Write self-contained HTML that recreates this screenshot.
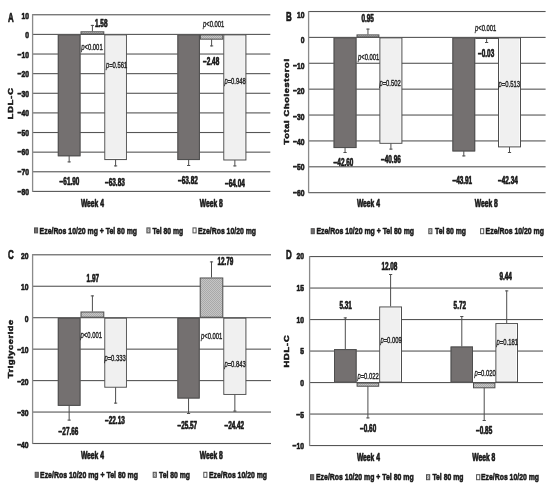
<!DOCTYPE html>
<html lang="en"><head><meta charset="utf-8"><title>Lipid changes</title>
<style>
html,body{margin:0;padding:0;background:#fff}
svg{display:block;font-family:"Liberation Sans", sans-serif;filter:blur(.35px)}
text{stroke-linejoin:round;vector-effect:non-scaling-stroke}
.b{stroke:#1c1c1c;stroke-width:.6px}
.p{stroke:#262626;stroke-width:.35px}
</style></head><body>
<svg width="550" height="485" viewBox="0 0 550 485">
<defs><pattern id="dots" width="2" height="2" patternUnits="userSpaceOnUse"><rect width="2" height="2" fill="#c5c5c5"/><rect width="1" height="1" fill="#a9a9a9"/><rect x="1" y="1" width="1" height="1" fill="#a9a9a9"/></pattern></defs>
<rect width="550" height="485" fill="#ffffff"/>
<rect x="32.40" y="14.22" width="237.90" height="1.10" fill="#565656"/>
<rect x="32.40" y="33.85" width="237.90" height="1.10" fill="#565656"/>
<rect x="32.40" y="53.48" width="237.90" height="1.10" fill="#565656"/>
<rect x="32.40" y="73.10" width="237.90" height="1.10" fill="#565656"/>
<rect x="32.40" y="92.73" width="237.90" height="1.10" fill="#565656"/>
<rect x="32.40" y="112.35" width="237.90" height="1.10" fill="#565656"/>
<rect x="32.40" y="131.97" width="237.90" height="1.10" fill="#565656"/>
<rect x="32.40" y="151.60" width="237.90" height="1.10" fill="#565656"/>
<rect x="32.40" y="171.22" width="237.90" height="1.10" fill="#565656"/>
<rect x="32.40" y="190.85" width="237.90" height="1.10" fill="#565656"/>
<rect x="31.95" y="14.00" width="1.30" height="178.00" fill="#8a8a8a"/>
<text transform="translate(29.00,18.60) scale(0.71,1)" font-size="9.5" font-weight="bold" text-anchor="end" fill="#161616" class="b">10</text>
<text transform="translate(29.00,38.15) scale(0.71,1)" font-size="9.5" font-weight="bold" text-anchor="end" fill="#161616" class="b">0</text>
<text transform="translate(29.00,57.70) scale(0.71,1)" font-size="9.5" font-weight="bold" text-anchor="end" fill="#161616" class="b">−10</text>
<text transform="translate(29.00,77.25) scale(0.71,1)" font-size="9.5" font-weight="bold" text-anchor="end" fill="#161616" class="b">−20</text>
<text transform="translate(29.00,96.80) scale(0.71,1)" font-size="9.5" font-weight="bold" text-anchor="end" fill="#161616" class="b">−30</text>
<text transform="translate(29.00,116.35) scale(0.71,1)" font-size="9.5" font-weight="bold" text-anchor="end" fill="#161616" class="b">−40</text>
<text transform="translate(29.00,135.90) scale(0.71,1)" font-size="9.5" font-weight="bold" text-anchor="end" fill="#161616" class="b">−50</text>
<text transform="translate(29.00,155.45) scale(0.71,1)" font-size="9.5" font-weight="bold" text-anchor="end" fill="#161616" class="b">−60</text>
<text transform="translate(29.00,175.00) scale(0.71,1)" font-size="9.5" font-weight="bold" text-anchor="end" fill="#161616" class="b">−70</text>
<text transform="translate(29.00,194.55) scale(0.71,1)" font-size="9.5" font-weight="bold" text-anchor="end" fill="#161616" class="b">−80</text>
<rect x="57.80" y="34.40" width="22.70" height="121.88" fill="#747070"/>
<rect x="58.30" y="34.90" width="21.70" height="120.88" fill="none" stroke="#4e4e4e" stroke-width="1"/>
<rect x="68.65" y="155.88" width="1.00" height="6.52" fill="#4e4e4e"/>
<rect x="67.55" y="161.40" width="3.20" height="1.00" fill="#4e4e4e"/>
<rect x="81.00" y="31.80" width="22.80" height="2.10" fill="url(#dots)" stroke="#4e4e4e" stroke-width="1"/>
<rect x="91.90" y="24.90" width="1.00" height="6.40" fill="#4e4e4e"/>
<rect x="90.80" y="24.90" width="3.20" height="1.00" fill="#4e4e4e"/>
<rect x="104.80" y="34.90" width="21.60" height="124.67" fill="#ffffff" stroke="#4e4e4e" stroke-width="1"/>
<rect x="106.00" y="36.10" width="19.20" height="122.27" fill="#f0f0f0"/>
<rect x="115.10" y="159.67" width="1.00" height="6.73" fill="#4e4e4e"/>
<rect x="114.00" y="165.40" width="3.20" height="1.00" fill="#4e4e4e"/>
<rect x="177.40" y="34.40" width="22.50" height="125.65" fill="#747070"/>
<rect x="177.90" y="34.90" width="21.50" height="124.65" fill="none" stroke="#4e4e4e" stroke-width="1"/>
<rect x="188.15" y="159.65" width="1.00" height="6.35" fill="#4e4e4e"/>
<rect x="187.05" y="165.00" width="3.20" height="1.00" fill="#4e4e4e"/>
<rect x="200.40" y="34.90" width="22.40" height="4.27" fill="url(#dots)" stroke="#4e4e4e" stroke-width="1"/>
<rect x="211.10" y="39.27" width="1.00" height="7.13" fill="#4e4e4e"/>
<rect x="210.00" y="45.40" width="3.20" height="1.00" fill="#4e4e4e"/>
<rect x="223.80" y="34.90" width="22.10" height="125.08" fill="#ffffff" stroke="#4e4e4e" stroke-width="1"/>
<rect x="225.00" y="36.10" width="19.70" height="122.68" fill="#f0f0f0"/>
<rect x="234.35" y="160.08" width="1.00" height="6.32" fill="#4e4e4e"/>
<rect x="233.25" y="165.40" width="3.20" height="1.00" fill="#4e4e4e"/>
<text transform="translate(59.60,185.10) scale(0.635,1)" font-size="10.1" font-weight="bold" text-anchor="start" fill="#161616" class="b">−61.90</text>
<text transform="translate(95.00,26.50) scale(0.635,1)" font-size="10.1" font-weight="bold" text-anchor="start" fill="#161616" class="b">1.58</text>
<text transform="translate(105.00,186.10) scale(0.635,1)" font-size="10.1" font-weight="bold" text-anchor="start" fill="#161616" class="b">−63.83</text>
<text transform="translate(178.00,184.10) scale(0.635,1)" font-size="10.1" font-weight="bold" text-anchor="start" fill="#161616" class="b">−63.82</text>
<text transform="translate(203.00,64.50) scale(0.635,1)" font-size="10.1" font-weight="bold" text-anchor="start" fill="#161616" class="b">−2.48</text>
<text transform="translate(225.00,186.50) scale(0.635,1)" font-size="10.1" font-weight="bold" text-anchor="start" fill="#161616" class="b">−64.04</text>
<text transform="translate(81.30,50.20) scale(0.645,1)" font-size="9.1" fill="#262626" class="p"><tspan font-style="italic">p</tspan>&lt;0.001</text>
<text transform="translate(105.90,67.50) scale(0.645,1)" font-size="9.1" fill="#262626" class="p"><tspan font-style="italic">p</tspan>=0.561</text>
<text transform="translate(203.00,26.50) scale(0.645,1)" font-size="9.1" fill="#262626" class="p"><tspan font-style="italic">p</tspan>&lt;0.001</text>
<text transform="translate(224.40,83.50) scale(0.645,1)" font-size="9.1" fill="#262626" class="p"><tspan font-style="italic">p</tspan>=0.948</text>
<text transform="translate(80.90,206.60) scale(0.66,1)" font-size="10.2" font-weight="bold" text-anchor="start" fill="#161616" class="b">Week 4</text>
<text transform="translate(199.70,206.60) scale(0.66,1)" font-size="10.2" font-weight="bold" text-anchor="start" fill="#161616" class="b">Week 8</text>
<rect x="34.50" y="227.90" width="3.10" height="5.00" fill="#747070" stroke="#505050" stroke-width="1"/>
<text x="39.60" y="233.60" font-size="9.9" font-weight="bold" fill="#161616" class="b" textLength="97.40" lengthAdjust="spacingAndGlyphs">Eze/Ros 10/20 mg + Tel 80 mg</text>
<rect x="146.90" y="227.90" width="3.10" height="5.00" fill="url(#dots)" stroke="#505050" stroke-width="1"/>
<text x="152.40" y="233.60" font-size="9.9" font-weight="bold" fill="#161616" class="b" textLength="30.80" lengthAdjust="spacingAndGlyphs">Tel 80 mg</text>
<rect x="193.00" y="227.90" width="3.10" height="5.00" fill="#ffffff" stroke="#505050" stroke-width="1"/>
<text x="198.00" y="233.60" font-size="9.9" font-weight="bold" fill="#161616" class="b" textLength="58.00" lengthAdjust="spacingAndGlyphs">Eze/Ros 10/20 mg</text>
<text transform="translate(13.40,103.60) rotate(-90) scale(1.25,1)" x="-12.48" y="0" font-size="7.4" font-weight="bold" fill="#161616" class="b" textLength="24.96" lengthAdjust="spacing">LDL-C</text>
<text transform="translate(8.00,22.00) scale(0.635,1)" font-size="12.5" font-weight="bold" text-anchor="start" fill="#161616" class="b">A</text>
<rect x="308.40" y="10.97" width="237.20" height="1.10" fill="#565656"/>
<rect x="308.40" y="36.85" width="237.20" height="1.10" fill="#565656"/>
<rect x="308.40" y="62.73" width="237.20" height="1.10" fill="#565656"/>
<rect x="308.40" y="88.61" width="237.20" height="1.10" fill="#565656"/>
<rect x="308.40" y="114.49" width="237.20" height="1.10" fill="#565656"/>
<rect x="308.40" y="140.37" width="237.20" height="1.10" fill="#565656"/>
<rect x="308.40" y="166.25" width="237.20" height="1.10" fill="#565656"/>
<rect x="308.40" y="192.13" width="237.20" height="1.10" fill="#565656"/>
<rect x="307.95" y="11.00" width="1.30" height="182.00" fill="#8a8a8a"/>
<text transform="translate(304.40,17.90) scale(0.71,1)" font-size="9.5" font-weight="bold" text-anchor="end" fill="#161616" class="b">10</text>
<text transform="translate(304.40,43.30) scale(0.71,1)" font-size="9.5" font-weight="bold" text-anchor="end" fill="#161616" class="b">0</text>
<text transform="translate(304.40,68.70) scale(0.71,1)" font-size="9.5" font-weight="bold" text-anchor="end" fill="#161616" class="b">−10</text>
<text transform="translate(304.40,94.10) scale(0.71,1)" font-size="9.5" font-weight="bold" text-anchor="end" fill="#161616" class="b">−20</text>
<text transform="translate(304.40,119.50) scale(0.71,1)" font-size="9.5" font-weight="bold" text-anchor="end" fill="#161616" class="b">−30</text>
<text transform="translate(304.40,144.90) scale(0.71,1)" font-size="9.5" font-weight="bold" text-anchor="end" fill="#161616" class="b">−40</text>
<text transform="translate(304.40,170.30) scale(0.71,1)" font-size="9.5" font-weight="bold" text-anchor="end" fill="#161616" class="b">−50</text>
<text transform="translate(304.40,195.70) scale(0.71,1)" font-size="9.5" font-weight="bold" text-anchor="end" fill="#161616" class="b">−60</text>
<rect x="333.60" y="37.40" width="22.90" height="110.65" fill="#747070"/>
<rect x="334.10" y="37.90" width="21.90" height="109.65" fill="none" stroke="#4e4e4e" stroke-width="1"/>
<rect x="344.55" y="147.65" width="1.00" height="5.35" fill="#4e4e4e"/>
<rect x="343.45" y="152.00" width="3.20" height="1.00" fill="#4e4e4e"/>
<rect x="357.00" y="34.90" width="21.90" height="2.00" fill="url(#dots)" stroke="#4e4e4e" stroke-width="1"/>
<rect x="367.45" y="28.60" width="1.00" height="5.80" fill="#4e4e4e"/>
<rect x="366.35" y="28.60" width="3.20" height="1.00" fill="#4e4e4e"/>
<rect x="379.90" y="37.90" width="22.00" height="105.40" fill="#ffffff" stroke="#4e4e4e" stroke-width="1"/>
<rect x="381.10" y="39.10" width="19.60" height="103.00" fill="#f0f0f0"/>
<rect x="390.40" y="143.40" width="1.00" height="6.20" fill="#4e4e4e"/>
<rect x="389.30" y="148.60" width="3.20" height="1.00" fill="#4e4e4e"/>
<rect x="452.40" y="37.40" width="22.80" height="114.04" fill="#747070"/>
<rect x="452.90" y="37.90" width="21.80" height="113.04" fill="none" stroke="#4e4e4e" stroke-width="1"/>
<rect x="463.30" y="151.04" width="1.00" height="5.36" fill="#4e4e4e"/>
<rect x="462.20" y="155.40" width="3.20" height="1.00" fill="#4e4e4e"/>
<rect x="475.70" y="37.90" width="21.80" height="0.60" fill="url(#dots)" stroke="#4e4e4e" stroke-width="1"/>
<rect x="486.10" y="37.48" width="1.00" height="5.52" fill="#4e4e4e"/>
<rect x="485.00" y="42.00" width="3.20" height="1.00" fill="#4e4e4e"/>
<rect x="498.50" y="37.90" width="22.00" height="108.98" fill="#ffffff" stroke="#4e4e4e" stroke-width="1"/>
<rect x="499.70" y="39.10" width="19.60" height="106.58" fill="#f0f0f0"/>
<rect x="509.00" y="146.98" width="1.00" height="6.02" fill="#4e4e4e"/>
<rect x="507.90" y="152.00" width="3.20" height="1.00" fill="#4e4e4e"/>
<text transform="translate(333.60,165.80) scale(0.635,1)" font-size="10.1" font-weight="bold" text-anchor="start" fill="#161616" class="b">−42.60</text>
<text transform="translate(361.40,22.10) scale(0.635,1)" font-size="10.1" font-weight="bold" text-anchor="start" fill="#161616" class="b">0.95</text>
<text transform="translate(381.00,163.10) scale(0.635,1)" font-size="10.1" font-weight="bold" text-anchor="start" fill="#161616" class="b">−40.96</text>
<text transform="translate(452.40,184.10) scale(0.635,1)" font-size="10.1" font-weight="bold" text-anchor="start" fill="#161616" class="b">−43.91</text>
<text transform="translate(478.00,56.90) scale(0.635,1)" font-size="10.1" font-weight="bold" text-anchor="start" fill="#161616" class="b">−0.03</text>
<text transform="translate(498.00,183.50) scale(0.635,1)" font-size="10.1" font-weight="bold" text-anchor="start" fill="#161616" class="b">−42.34</text>
<text transform="translate(358.00,59.50) scale(0.645,1)" font-size="9.1" fill="#262626" class="p"><tspan font-style="italic">p</tspan>&lt;0.001</text>
<text transform="translate(379.40,85.90) scale(0.645,1)" font-size="9.1" fill="#262626" class="p"><tspan font-style="italic">p</tspan>=0.502</text>
<text transform="translate(475.00,31.30) scale(0.645,1)" font-size="9.1" fill="#262626" class="p"><tspan font-style="italic">p</tspan>&lt;0.001</text>
<text transform="translate(498.60,86.50) scale(0.645,1)" font-size="9.1" fill="#262626" class="p"><tspan font-style="italic">p</tspan>=0.513</text>
<text transform="translate(356.90,207.40) scale(0.66,1)" font-size="10.2" font-weight="bold" text-anchor="start" fill="#161616" class="b">Week 4</text>
<text transform="translate(474.70,207.40) scale(0.66,1)" font-size="10.2" font-weight="bold" text-anchor="start" fill="#161616" class="b">Week 8</text>
<rect x="311.20" y="228.70" width="3.10" height="5.00" fill="#747070" stroke="#505050" stroke-width="1"/>
<text x="316.40" y="234.40" font-size="9.9" font-weight="bold" fill="#161616" class="b" textLength="97.60" lengthAdjust="spacingAndGlyphs">Eze/Ros 10/20 mg + Tel 80 mg</text>
<rect x="428.80" y="228.70" width="3.10" height="5.00" fill="url(#dots)" stroke="#505050" stroke-width="1"/>
<text x="435.00" y="234.40" font-size="9.9" font-weight="bold" fill="#161616" class="b" textLength="31.00" lengthAdjust="spacingAndGlyphs">Tel 80 mg</text>
<rect x="480.60" y="228.70" width="3.10" height="5.00" fill="#ffffff" stroke="#505050" stroke-width="1"/>
<text x="485.60" y="234.40" font-size="9.9" font-weight="bold" fill="#161616" class="b" textLength="58.40" lengthAdjust="spacingAndGlyphs">Eze/Ros 10/20 mg</text>
<text transform="translate(289.40,101.70) rotate(-90) scale(1.25,1)" x="-34.16" y="0" font-size="7.4" font-weight="bold" fill="#161616" class="b" textLength="68.32" lengthAdjust="spacing">Total Cholesterol</text>
<text transform="translate(286.00,21.00) scale(0.635,1)" font-size="12.5" font-weight="bold" text-anchor="start" fill="#161616" class="b">B</text>
<rect x="32.40" y="254.25" width="238.60" height="1.10" fill="#565656"/>
<rect x="32.40" y="285.70" width="238.60" height="1.10" fill="#565656"/>
<rect x="32.40" y="317.15" width="238.60" height="1.10" fill="#565656"/>
<rect x="32.40" y="348.60" width="238.60" height="1.10" fill="#565656"/>
<rect x="32.40" y="380.05" width="238.60" height="1.10" fill="#565656"/>
<rect x="32.40" y="411.50" width="238.60" height="1.10" fill="#565656"/>
<rect x="32.40" y="442.95" width="238.60" height="1.10" fill="#565656"/>
<rect x="31.95" y="254.00" width="1.30" height="190.00" fill="#8a8a8a"/>
<text transform="translate(28.60,258.50) scale(0.71,1)" font-size="9.5" font-weight="bold" text-anchor="end" fill="#161616" class="b">20</text>
<text transform="translate(28.60,290.00) scale(0.71,1)" font-size="9.5" font-weight="bold" text-anchor="end" fill="#161616" class="b">10</text>
<text transform="translate(28.60,321.50) scale(0.71,1)" font-size="9.5" font-weight="bold" text-anchor="end" fill="#161616" class="b">0</text>
<text transform="translate(28.60,353.00) scale(0.71,1)" font-size="9.5" font-weight="bold" text-anchor="end" fill="#161616" class="b">−10</text>
<text transform="translate(28.60,384.50) scale(0.71,1)" font-size="9.5" font-weight="bold" text-anchor="end" fill="#161616" class="b">−20</text>
<text transform="translate(28.60,416.00) scale(0.71,1)" font-size="9.5" font-weight="bold" text-anchor="end" fill="#161616" class="b">−30</text>
<text transform="translate(28.60,447.50) scale(0.71,1)" font-size="9.5" font-weight="bold" text-anchor="end" fill="#161616" class="b">−40</text>
<rect x="57.80" y="317.70" width="22.70" height="88.15" fill="#747070"/>
<rect x="58.30" y="318.20" width="21.70" height="87.15" fill="none" stroke="#4e4e4e" stroke-width="1"/>
<rect x="68.65" y="405.45" width="1.00" height="15.15" fill="#4e4e4e"/>
<rect x="67.55" y="419.60" width="3.20" height="1.00" fill="#4e4e4e"/>
<rect x="81.00" y="312.00" width="22.80" height="5.20" fill="url(#dots)" stroke="#4e4e4e" stroke-width="1"/>
<rect x="91.90" y="295.40" width="1.00" height="16.10" fill="#4e4e4e"/>
<rect x="90.80" y="295.40" width="3.20" height="1.00" fill="#4e4e4e"/>
<rect x="104.80" y="318.20" width="21.60" height="69.00" fill="#ffffff" stroke="#4e4e4e" stroke-width="1"/>
<rect x="106.00" y="319.40" width="19.20" height="66.60" fill="#f0f0f0"/>
<rect x="115.10" y="387.30" width="1.00" height="16.30" fill="#4e4e4e"/>
<rect x="114.00" y="402.60" width="3.20" height="1.00" fill="#4e4e4e"/>
<rect x="177.40" y="317.70" width="22.30" height="80.82" fill="#747070"/>
<rect x="177.90" y="318.20" width="21.30" height="79.82" fill="none" stroke="#4e4e4e" stroke-width="1"/>
<rect x="188.05" y="398.12" width="1.00" height="15.88" fill="#4e4e4e"/>
<rect x="186.95" y="413.00" width="3.20" height="1.00" fill="#4e4e4e"/>
<rect x="200.20" y="277.98" width="22.60" height="39.22" fill="url(#dots)" stroke="#4e4e4e" stroke-width="1"/>
<rect x="211.00" y="261.40" width="1.00" height="16.08" fill="#4e4e4e"/>
<rect x="209.90" y="261.40" width="3.20" height="1.00" fill="#4e4e4e"/>
<rect x="223.80" y="318.20" width="22.10" height="76.20" fill="#ffffff" stroke="#4e4e4e" stroke-width="1"/>
<rect x="225.00" y="319.40" width="19.70" height="73.80" fill="#f0f0f0"/>
<rect x="234.35" y="394.50" width="1.00" height="17.10" fill="#4e4e4e"/>
<rect x="233.25" y="410.60" width="3.20" height="1.00" fill="#4e4e4e"/>
<text transform="translate(58.60,434.90) scale(0.635,1)" font-size="10.1" font-weight="bold" text-anchor="start" fill="#161616" class="b">−27.66</text>
<text transform="translate(86.60,281.50) scale(0.635,1)" font-size="10.1" font-weight="bold" text-anchor="start" fill="#161616" class="b">1.97</text>
<text transform="translate(105.00,423.90) scale(0.635,1)" font-size="10.1" font-weight="bold" text-anchor="start" fill="#161616" class="b">−22.13</text>
<text transform="translate(177.40,428.90) scale(0.635,1)" font-size="10.1" font-weight="bold" text-anchor="start" fill="#161616" class="b">−25.57</text>
<text transform="translate(217.40,265.10) scale(0.635,1)" font-size="10.1" font-weight="bold" text-anchor="start" fill="#161616" class="b">12.79</text>
<text transform="translate(224.40,428.90) scale(0.635,1)" font-size="10.1" font-weight="bold" text-anchor="start" fill="#161616" class="b">−24.42</text>
<text transform="translate(80.60,337.50) scale(0.645,1)" font-size="9.1" fill="#262626" class="p"><tspan font-style="italic">p</tspan>&lt;0.001</text>
<text transform="translate(104.40,360.90) scale(0.645,1)" font-size="9.1" fill="#262626" class="p"><tspan font-style="italic">p</tspan>=0.333</text>
<text transform="translate(201.00,338.90) scale(0.645,1)" font-size="9.1" fill="#262626" class="p"><tspan font-style="italic">p</tspan>&lt;0.001</text>
<text transform="translate(224.40,366.50) scale(0.645,1)" font-size="9.1" fill="#262626" class="p"><tspan font-style="italic">p</tspan>=0.843</text>
<text transform="translate(80.90,458.80) scale(0.66,1)" font-size="10.2" font-weight="bold" text-anchor="start" fill="#161616" class="b">Week 4</text>
<text transform="translate(199.70,458.80) scale(0.66,1)" font-size="10.2" font-weight="bold" text-anchor="start" fill="#161616" class="b">Week 8</text>
<rect x="35.20" y="472.30" width="3.10" height="5.00" fill="#747070" stroke="#505050" stroke-width="1"/>
<text x="40.00" y="478.00" font-size="9.9" font-weight="bold" fill="#161616" class="b" textLength="98.00" lengthAdjust="spacingAndGlyphs">Eze/Ros 10/20 mg + Tel 80 mg</text>
<rect x="153.20" y="472.30" width="3.10" height="5.00" fill="url(#dots)" stroke="#505050" stroke-width="1"/>
<text x="159.00" y="478.00" font-size="9.9" font-weight="bold" fill="#161616" class="b" textLength="31.00" lengthAdjust="spacingAndGlyphs">Tel 80 mg</text>
<rect x="203.80" y="472.30" width="3.10" height="5.00" fill="#ffffff" stroke="#505050" stroke-width="1"/>
<text x="209.00" y="478.00" font-size="9.9" font-weight="bold" fill="#161616" class="b" textLength="58.00" lengthAdjust="spacingAndGlyphs">Eze/Ros 10/20 mg</text>
<text transform="translate(12.90,349.00) rotate(-90) scale(1.25,1)" x="-23.36" y="0" font-size="7.4" font-weight="bold" fill="#161616" class="b" textLength="46.72" lengthAdjust="spacing">Triglyceride</text>
<text transform="translate(8.00,259.40) scale(0.635,1)" font-size="12.5" font-weight="bold" text-anchor="start" fill="#161616" class="b">C</text>
<rect x="309.40" y="256.00" width="233.60" height="1.10" fill="#565656"/>
<rect x="309.40" y="287.50" width="233.60" height="1.10" fill="#565656"/>
<rect x="309.40" y="319.00" width="233.60" height="1.10" fill="#565656"/>
<rect x="309.40" y="350.50" width="233.60" height="1.10" fill="#565656"/>
<rect x="309.40" y="382.00" width="233.60" height="1.10" fill="#565656"/>
<rect x="309.40" y="413.50" width="233.60" height="1.10" fill="#565656"/>
<rect x="309.40" y="445.00" width="233.60" height="1.10" fill="#565656"/>
<rect x="308.95" y="256.00" width="1.30" height="190.00" fill="#8a8a8a"/>
<text transform="translate(303.90,259.20) scale(0.71,1)" font-size="9.5" font-weight="bold" text-anchor="end" fill="#161616" class="b">20</text>
<text transform="translate(303.90,290.90) scale(0.71,1)" font-size="9.5" font-weight="bold" text-anchor="end" fill="#161616" class="b">15</text>
<text transform="translate(303.90,322.60) scale(0.71,1)" font-size="9.5" font-weight="bold" text-anchor="end" fill="#161616" class="b">10</text>
<text transform="translate(303.90,354.30) scale(0.71,1)" font-size="9.5" font-weight="bold" text-anchor="end" fill="#161616" class="b">5</text>
<text transform="translate(303.90,386.00) scale(0.71,1)" font-size="9.5" font-weight="bold" text-anchor="end" fill="#161616" class="b">0</text>
<text transform="translate(303.90,417.70) scale(0.71,1)" font-size="9.5" font-weight="bold" text-anchor="end" fill="#161616" class="b">−5</text>
<text transform="translate(303.90,449.40) scale(0.71,1)" font-size="9.5" font-weight="bold" text-anchor="end" fill="#161616" class="b">−10</text>
<rect x="334.00" y="349.10" width="22.60" height="33.45" fill="#747070"/>
<rect x="334.50" y="349.60" width="21.60" height="32.45" fill="none" stroke="#4e4e4e" stroke-width="1"/>
<rect x="344.80" y="317.40" width="1.00" height="31.70" fill="#4e4e4e"/>
<rect x="343.70" y="317.40" width="3.20" height="1.00" fill="#4e4e4e"/>
<rect x="357.10" y="383.05" width="21.60" height="3.18" fill="url(#dots)" stroke="#4e4e4e" stroke-width="1"/>
<rect x="367.40" y="386.33" width="1.00" height="32.07" fill="#4e4e4e"/>
<rect x="366.30" y="417.40" width="3.20" height="1.00" fill="#4e4e4e"/>
<rect x="379.70" y="306.95" width="21.80" height="75.10" fill="#ffffff" stroke="#4e4e4e" stroke-width="1"/>
<rect x="380.90" y="308.15" width="19.40" height="72.70" fill="#f0f0f0"/>
<rect x="390.10" y="274.00" width="1.00" height="32.45" fill="#4e4e4e"/>
<rect x="389.00" y="274.00" width="3.20" height="1.00" fill="#4e4e4e"/>
<rect x="450.60" y="346.51" width="22.40" height="36.04" fill="#747070"/>
<rect x="451.10" y="347.01" width="21.40" height="35.04" fill="none" stroke="#4e4e4e" stroke-width="1"/>
<rect x="461.30" y="316.00" width="1.00" height="30.51" fill="#4e4e4e"/>
<rect x="460.20" y="316.00" width="3.20" height="1.00" fill="#4e4e4e"/>
<rect x="473.50" y="383.05" width="21.40" height="4.75" fill="url(#dots)" stroke="#4e4e4e" stroke-width="1"/>
<rect x="483.70" y="387.91" width="1.00" height="33.09" fill="#4e4e4e"/>
<rect x="482.60" y="420.00" width="3.20" height="1.00" fill="#4e4e4e"/>
<rect x="495.90" y="323.58" width="21.60" height="58.47" fill="#ffffff" stroke="#4e4e4e" stroke-width="1"/>
<rect x="497.10" y="324.78" width="19.20" height="56.07" fill="#f0f0f0"/>
<rect x="506.20" y="290.40" width="1.00" height="32.68" fill="#4e4e4e"/>
<rect x="505.10" y="290.40" width="3.20" height="1.00" fill="#4e4e4e"/>
<text transform="translate(339.40,309.10) scale(0.635,1)" font-size="10.1" font-weight="bold" text-anchor="start" fill="#161616" class="b">5.31</text>
<text transform="translate(360.00,431.50) scale(0.635,1)" font-size="10.1" font-weight="bold" text-anchor="start" fill="#161616" class="b">−0.60</text>
<text transform="translate(381.40,269.50) scale(0.635,1)" font-size="10.1" font-weight="bold" text-anchor="start" fill="#161616" class="b">12.08</text>
<text transform="translate(453.60,308.50) scale(0.635,1)" font-size="10.1" font-weight="bold" text-anchor="start" fill="#161616" class="b">5.72</text>
<text transform="translate(476.00,433.90) scale(0.635,1)" font-size="10.1" font-weight="bold" text-anchor="start" fill="#161616" class="b">−0.85</text>
<text transform="translate(499.40,280.10) scale(0.635,1)" font-size="10.1" font-weight="bold" text-anchor="start" fill="#161616" class="b">9.44</text>
<text transform="translate(357.40,378.50) scale(0.645,1)" font-size="9.1" fill="#262626" class="p"><tspan font-style="italic">p</tspan>=0.022</text>
<text transform="translate(380.40,342.90) scale(0.645,1)" font-size="9.1" fill="#262626" class="p"><tspan font-style="italic">p</tspan>=0.009</text>
<text transform="translate(474.40,375.50) scale(0.645,1)" font-size="9.1" fill="#262626" class="p"><tspan font-style="italic">p</tspan>=0.020</text>
<text transform="translate(496.60,344.90) scale(0.645,1)" font-size="9.1" fill="#262626" class="p"><tspan font-style="italic">p</tspan>=0.181</text>
<text transform="translate(356.90,460.80) scale(0.66,1)" font-size="10.2" font-weight="bold" text-anchor="start" fill="#161616" class="b">Week 4</text>
<text transform="translate(472.30,460.80) scale(0.66,1)" font-size="10.2" font-weight="bold" text-anchor="start" fill="#161616" class="b">Week 8</text>
<rect x="310.50" y="474.70" width="3.20" height="5.00" fill="#747070" stroke="#505050" stroke-width="1"/>
<text x="316.00" y="480.40" font-size="9.9" font-weight="bold" fill="#161616" class="b" textLength="97.60" lengthAdjust="spacingAndGlyphs">Eze/Ros 10/20 mg + Tel 80 mg</text>
<rect x="426.50" y="474.70" width="3.20" height="5.00" fill="url(#dots)" stroke="#505050" stroke-width="1"/>
<text x="432.40" y="480.40" font-size="9.9" font-weight="bold" fill="#161616" class="b" textLength="31.00" lengthAdjust="spacingAndGlyphs">Tel 80 mg</text>
<rect x="476.60" y="474.70" width="3.20" height="5.00" fill="#ffffff" stroke="#505050" stroke-width="1"/>
<text x="481.00" y="480.40" font-size="9.9" font-weight="bold" fill="#161616" class="b" textLength="58.00" lengthAdjust="spacingAndGlyphs">Eze/Ros 10/20 mg</text>
<text transform="translate(289.40,351.40) rotate(-90) scale(1.25,1)" x="-12.96" y="0" font-size="7.4" font-weight="bold" fill="#161616" class="b" textLength="25.92" lengthAdjust="spacing">HDL-C</text>
<text transform="translate(286.00,259.40) scale(0.635,1)" font-size="12.5" font-weight="bold" text-anchor="start" fill="#161616" class="b">D</text>
</svg>
</body></html>
